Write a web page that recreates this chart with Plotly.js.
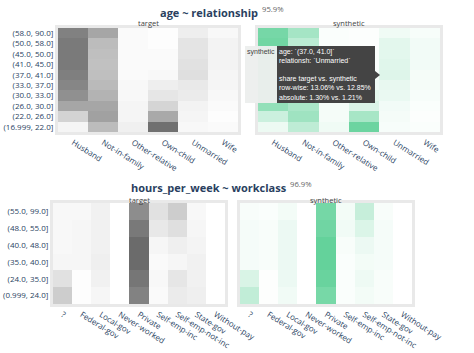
<!DOCTYPE html>
<html><head><meta charset="utf-8">
<script src="https://cdn.plot.ly/plotly-3.0.1.min.js"></script>
<style>html,body{margin:0;padding:0;background:#fff;} #chart{width:474px;height:353px;}</style>
</head><body><div id="chart"></div>
<script>
// ---- data: age ~ relationship (row-wise share, %) ----
const relationshipCats = ['Husband','Not-in-family','Other-relative','Own-child','Unmarried','Wife'];
const ageBins = ['(16.999, 22.0]','(22.0, 26.0]','(26.0, 30.0]','(30.0, 33.0]','(33.0, 37.0]','(37.0, 41.0]','(41.0, 45.0]','(45.0, 50.0]','(50.0, 58.0]','(58.0, 90.0]'];
const ageRelTarget = [
  [4, 27, 6, 58, 3, 2],
  [18, 38, 4, 35, 4, 1],
  [36, 36, 4, 17, 5, 2],
  [45, 31, 3, 10, 8, 3],
  [49, 28, 3, 7, 9, 4],
  [52, 26, 2, 3, 13.06, 4],
  [54, 25, 2, 2, 12, 5],
  [54, 26, 2, 2, 11, 5],
  [54, 27, 2, 1, 11, 5],
  [51, 36, 2, 1, 7, 3]
];
const ageRelSynthetic = [
  [7, 25, 6, 57, 3, 2],
  [20, 37, 4, 34, 4, 1],
  [42, 33, 4, 14, 5, 2],
  [46, 30, 3, 10, 8, 3],
  [50, 28, 3, 6, 9, 4],
  [53, 25, 2, 3, 12.85, 4],
  [53, 26, 2, 2, 12, 5],
  [54, 26, 2, 2, 11, 5],
  [55, 26, 2, 1, 11, 5],
  [53, 35, 2, 1, 6, 3]
];
// ---- data: hours_per_week ~ workclass (row-wise share, %) ----
const workclassCats = ['?','Federal-gov','Local-gov','Never-worked','Private','Self-emp-inc','Self-emp-not-inc','State-gov','Without-pay'];
const hoursBins = ['(0.999, 24.0]','(24.0, 35.0]','(35.0, 40.0]','(40.0, 48.0]','(48.0, 55.0]','(55.0, 99.0]'];
const hoursWorkTarget = [
  [22, 1, 4, 0.05, 55, 2, 9, 7, 0.05],
  [13, 1, 6, 0.02, 60, 3, 11, 6, 0.05],
  [4, 4, 7, 0.01, 73, 2, 4, 6, 0.03],
  [3, 4, 6, 0.01, 71, 4, 7, 5, 0.02],
  [3, 4, 6, 0.01, 59, 10, 14, 4, 0.02],
  [3, 3, 6, 0.01, 50, 13, 22, 3, 0.02]
];
const hoursWorkSynthetic = [
  [26, 1, 6, 0.03, 57, 2, 5, 3, 0.03],
  [16, 1, 8, 0.02, 63, 2, 7, 3, 0.03],
  [4, 3, 8, 0.01, 74, 2, 5, 4, 0.02],
  [4, 3, 8, 0.01, 70, 3, 8, 4, 0.02],
  [4, 3, 8, 0.01, 60, 6, 15, 4, 0.02],
  [3, 2, 5, 0.01, 58, 5, 24, 3, 0.02]
];
const titles = ['age ~ relationship', 'hours_per_week ~ workclass'];
const scores = ['95.9%', '96.9%'];
const hoverName = 'synthetic';
const hoverLines = ['age: `(37.0, 41.0]`', 'relationsh: `Unmarried`', '\u00a0', 'share target vs. synthetic', 'row-wise: 13.06% vs. 12.85%', 'absolute: 1.30% vs. 1.21%'];

// ---- layout helpers ----
const W = 474, H = 353;
const px = x => x / W, py = y => 1 - y / H;
const FONT = '"Open Sans", verdana, arial, sans-serif';
const HFONT = 'Arial, "Liberation Sans", sans-serif';
const tickFont = {family: FONT, size: 8, color: '#2a3f5f'};
const greyScale = [[0, 'rgb(255,255,255)'], [1, 'rgb(107,107,107)']];
const greenScale = [[0, 'rgb(255,255,255)'], [1, 'rgb(100,210,155)']];

function xax(d0, d1, anchor) {
  return {domain: [px(d0), px(d1)], anchor, type: 'category', tickangle: 32, tickfont: tickFont,
    showgrid: false, zeroline: false, ticks: '', showline: true, linecolor: '#e9e9e9', linewidth: 3,
    mirror: true, automargin: false};
}
function yax(d0, d1, anchor, show) {
  return {domain: [py(d1), py(d0)], anchor, type: 'category', tickfont: tickFont, showticklabels: show,
    showgrid: false, zeroline: false, ticks: '', showline: true, linecolor: '#e9e9e9', linewidth: 3,
    mirror: true, automargin: false};
}
function hm(x, y, z, scale, zmax, xa, ya) {
  return {type: 'heatmap', x, y, z, colorscale: scale, zmin: 0, zmax, showscale: false,
    xaxis: xa, yaxis: ya, hoverinfo: 'skip'};
}

const data = [
  hm(relationshipCats, ageBins, ageRelTarget, greyScale, 60, 'x', 'y'),
  hm(relationshipCats, ageBins, ageRelSynthetic, greenScale, 60, 'x2', 'y2'),
  hm(workclassCats, hoursBins, hoursWorkTarget, greyScale, 65, 'x3', 'y3'),
  hm(workclassCats, hoursBins, hoursWorkSynthetic, greenScale, 65, 'x4', 'y4')
];

function ann(x, y, text, size, color, extra, family) {
  return Object.assign({xref: 'paper', yref: 'paper', x: px(x), y: py(y), text, showarrow: false,
    font: {family: family || FONT, size, color}, xanchor: 'center', yanchor: 'middle', borderpad: 0}, extra || {});
}
const annotations = [
  ann(209, 12.5, '<b>' + titles[0] + '</b>', 11, '#2a3f5f'),
  ann(261, 9, scores[0], 7.7, '#666', {xanchor: 'left'}),
  ann(209, 187, '<b>' + titles[1] + '</b>', 11, '#2a3f5f'),
  ann(289, 184.5, scores[1], 7.7, '#666', {xanchor: 'left'}),
  ann(148, 23, 'target', 7.5, '#444'),
  ann(349, 23, 'synthetic', 7.5, '#444'),
  ann(139, 200, 'target', 7.5, '#444'),
  ann(326, 200, 'synthetic', 7.5, '#444'),
  // hover-label imitation
  ann(261, 52, hoverName, 7, '#444', null, HFONT),
  ann(278, 47, hoverLines.join('<br>'), 7, '#fff', {xanchor: 'left', yanchor: 'top', align: 'left'}, HFONT)
];
const shapes = [
  {type: 'rect', xref: 'paper', yref: 'paper', x0: px(245), x1: px(277), y0: py(103), y1: py(46),
    fillcolor: 'rgba(236,238,237,0.96)', line: {width: 0}},
  {type: 'rect', xref: 'paper', yref: 'paper', x0: px(277), x1: px(375), y0: py(103), y1: py(46),
    fillcolor: '#444', line: {width: 0}},
  {type: 'path', xref: 'paper', yref: 'paper',
    path: 'M' + px(375) + ',' + py(71) + ' L' + px(380) + ',' + py(75) + ' L' + px(375) + ',' + py(79) + ' Z',
    fillcolor: '#444', line: {width: 0}}
];

const layout = {
  width: W, height: H, margin: {l: 0, r: 0, t: 0, b: 0},
  paper_bgcolor: '#fff', plot_bgcolor: '#fff', font: {family: FONT},
  showlegend: false,
  xaxis: xax(58, 238, 'y'), yaxis: yax(28, 132, 'x', true),
  xaxis2: xax(258, 440, 'y2'), yaxis2: yax(28, 132, 'x2', false),
  xaxis3: xax(53, 225, 'y3'), yaxis3: yax(203, 304, 'x3', true),
  xaxis4: xax(240, 412, 'y4'), yaxis4: yax(203, 304, 'x4', false),
  annotations, shapes
};
Plotly.newPlot('chart', data, layout, {displayModeBar: false, staticPlot: true});
</script></body></html>
